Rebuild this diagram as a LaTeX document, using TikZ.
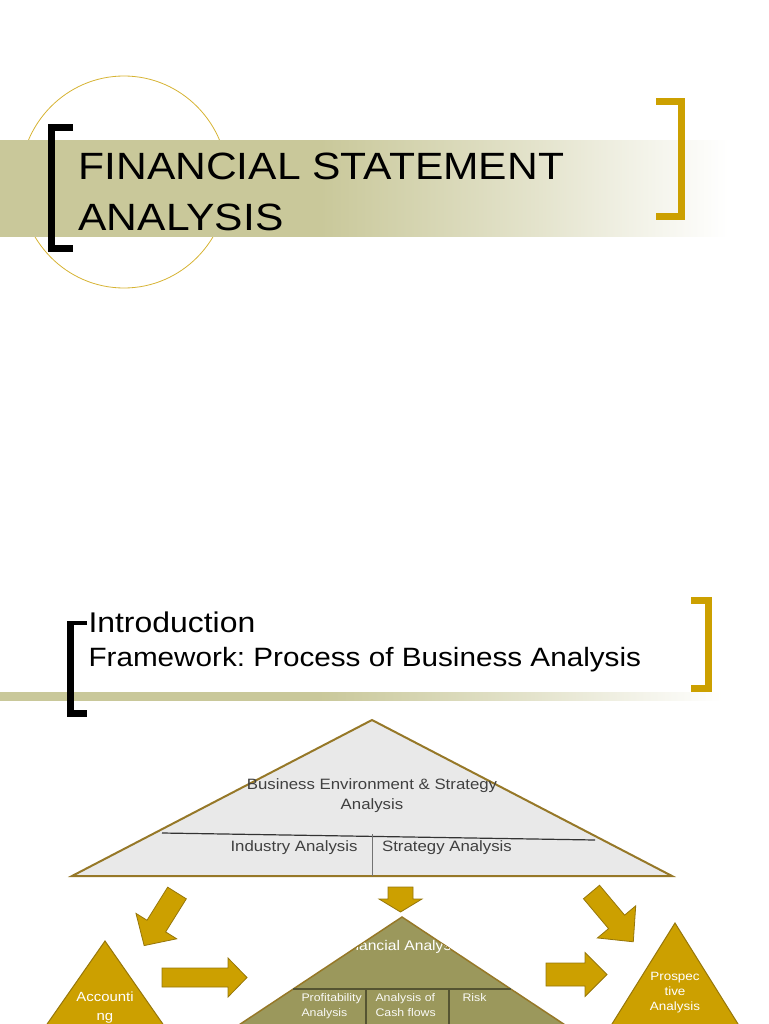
\documentclass[tikz,border=0pt]{standalone}
\usepackage{fontspec}
\setmainfont[FakeStretch=1.12]{Liberation Sans}
\frenchspacing

\definecolor{slidegold}{RGB}{204,160,0}
\definecolor{golddark}{RGB}{150,118,10}
\definecolor{bandolive}{RGB}{201,200,154}
\definecolor{finolive}{RGB}{155,152,92}
\definecolor{roofline}{RGB}{150,120,40}
\newcommand{\shadingroof}{gray!17}
\newcommand{\fsize}[2]{\fontsize{#1}{#2}\selectfont}
\pgfdeclarehorizontalshading{bandfade}{100bp}{color(0bp)=(bandolive); color(25bp)=(bandolive);
  color(47bp)=(bandolive); color(62bp)=(bandolive!50); color(75bp)=(white); color(100bp)=(white)}

\tikzset{
  arrowbody/.style={fill=slidegold, draw=golddark, line width=.8pt, line join=miter},
  bracket/.style={line width=7pt, line join=miter, line cap=butt},
  pics/blockarrow/.style n args={4}{code={
    \draw[arrowbody] (0,-#2) -- ({#1-#4},-#2) -- ({#1-#4},-#3) -- (#1,0)
      -- ({#1-#4},#3) -- ({#1-#4},#2) -- (0,#2) -- cycle;
  }},
  roofbox/.style={inner sep=0pt, text=black!75, font=\fsize{15}{20}, align=center},
  whitebox/.style={inner sep=0pt, text=white, align=center},
  cellbox/.style={inner sep=0pt, text=white!95!finolive, font=\fsize{11}{15}, align=left, anchor=north west}
}

\begin{document}
\begin{tikzpicture}[x=1pt, y=-1pt, line width=1pt]
\useasboundingbox (0,0) rectangle (768,1024);
\clip (0,0) rectangle (768,1024);

% first slide
\draw[slidegold!80, line width=.8pt] (124,182) ellipse [x radius=104, y radius=106];
\shade[shading=bandfade] (0,141) rectangle (728,236);
\draw[bracket, black] (73,127.5) -- (51.5,127.5) -- (51.5,248.5) -- (73,248.5);
\draw[bracket, slidegold] (656,101.5) -- (681,101.5) -- (681,216.5) -- (656,216.5);
\node[anchor=base west, inner sep=0pt, font=\fsize{38}{50}] (title1) at (78,180) {FINANCIAL STATEMENT};
\node[anchor=base west, inner sep=0pt, font=\fsize{38}{50}] (title2) at (78,230) {ANALYSIS};

% second slide
\shade[shading=bandfade] (0,692) rectangle (722,700);
\draw[bracket, black, line width=4pt] (87,623) -- (70,623);
\draw[bracket, black] (70,621) -- (70,713.5) -- (87,713.5);
\draw[bracket, slidegold] (691,600.5) -- (708,600.5) -- (708,688.5) -- (691,688.5);
\node[anchor=base west, inner sep=0pt, font=\fsize{28.5}{32}] (intro) at (88,632) {Introduction};
\node[anchor=base west, inner sep=0pt, font=\fsize{26.5}{30}] (frame) at (88,666) {Framework: Process of Business Analysis};

% roof triangle
\draw[fill=\shadingroof, draw=roofline, line width=2pt] (372,720) -- (672,876) -- (72,876) -- cycle;
\draw[black!80, line width=1.2pt] (162,833) -- (595,840);
\draw[black!55, line width=.8pt] (372,834) -- (372,876);
\node[roofbox] (busenv) at (372,796) {Business Environment \& Strategy\\Analysis};
\node[roofbox] (industry) at (294,848) {Industry Analysis};
\node[roofbox] (strategy) at (447,848) {Strategy Analysis};

% arrows
\pic[rotate=-122] at (177,893) {blockarrow={62}{11}{24}{23}};
\pic[rotate=-90] at (400.5,887) {blockarrow={25}{12.5}{21.5}{13}};
\pic[rotate=-50] at (591.5,892) {blockarrow={65}{10.5}{25}{26}};
\pic at (162,977.5) {blockarrow={85}{9.5}{19.5}{19}};
\pic at (546,974.5) {blockarrow={61}{11.5}{22}{22}};

% lower triangles
\draw[fill=slidegold, draw=golddark] (105,941) -- (188,1060) -- (22,1060) -- cycle;
\node[whitebox, font=\fsize{13.3}{19}] (acc) at (105,1008) {Accounti\\ng};

\draw[fill=finolive, draw=roofline, line width=1.5pt] (402,917) -- (618,1060) -- (186,1060) -- cycle;
\begin{scope}
  \clip (402,917) -- (618,1060) -- (186,1060) -- cycle;
  \node[whitebox, font=\fsize{14}{18}] (finan) at (400,947) {Financial Analysis};
\end{scope}
\draw[black!45!finolive, line width=1.2pt] (293,989) -- (511,989);
\draw[black!45!finolive, line width=1.2pt] (366,989) -- (366,1024);
\draw[black!45!finolive, line width=1.2pt] (449,989) -- (449,1024);
\node[cellbox] (profit) at (301,993) {Profitability\\Analysis};
\node[cellbox] (cashflow) at (375,993) {Analysis of\\Cash flows};
\node[cellbox] (risk) at (462,993) {Risk};

\draw[fill=slidegold, draw=golddark] (675,923) -- (760.5,1060) -- (589.5,1060) -- cycle;
\node[whitebox, font=\fsize{12}{15}] (prosp) at (675,993) {Prospec\\tive\\Analysis};
\end{tikzpicture}
\end{document}
